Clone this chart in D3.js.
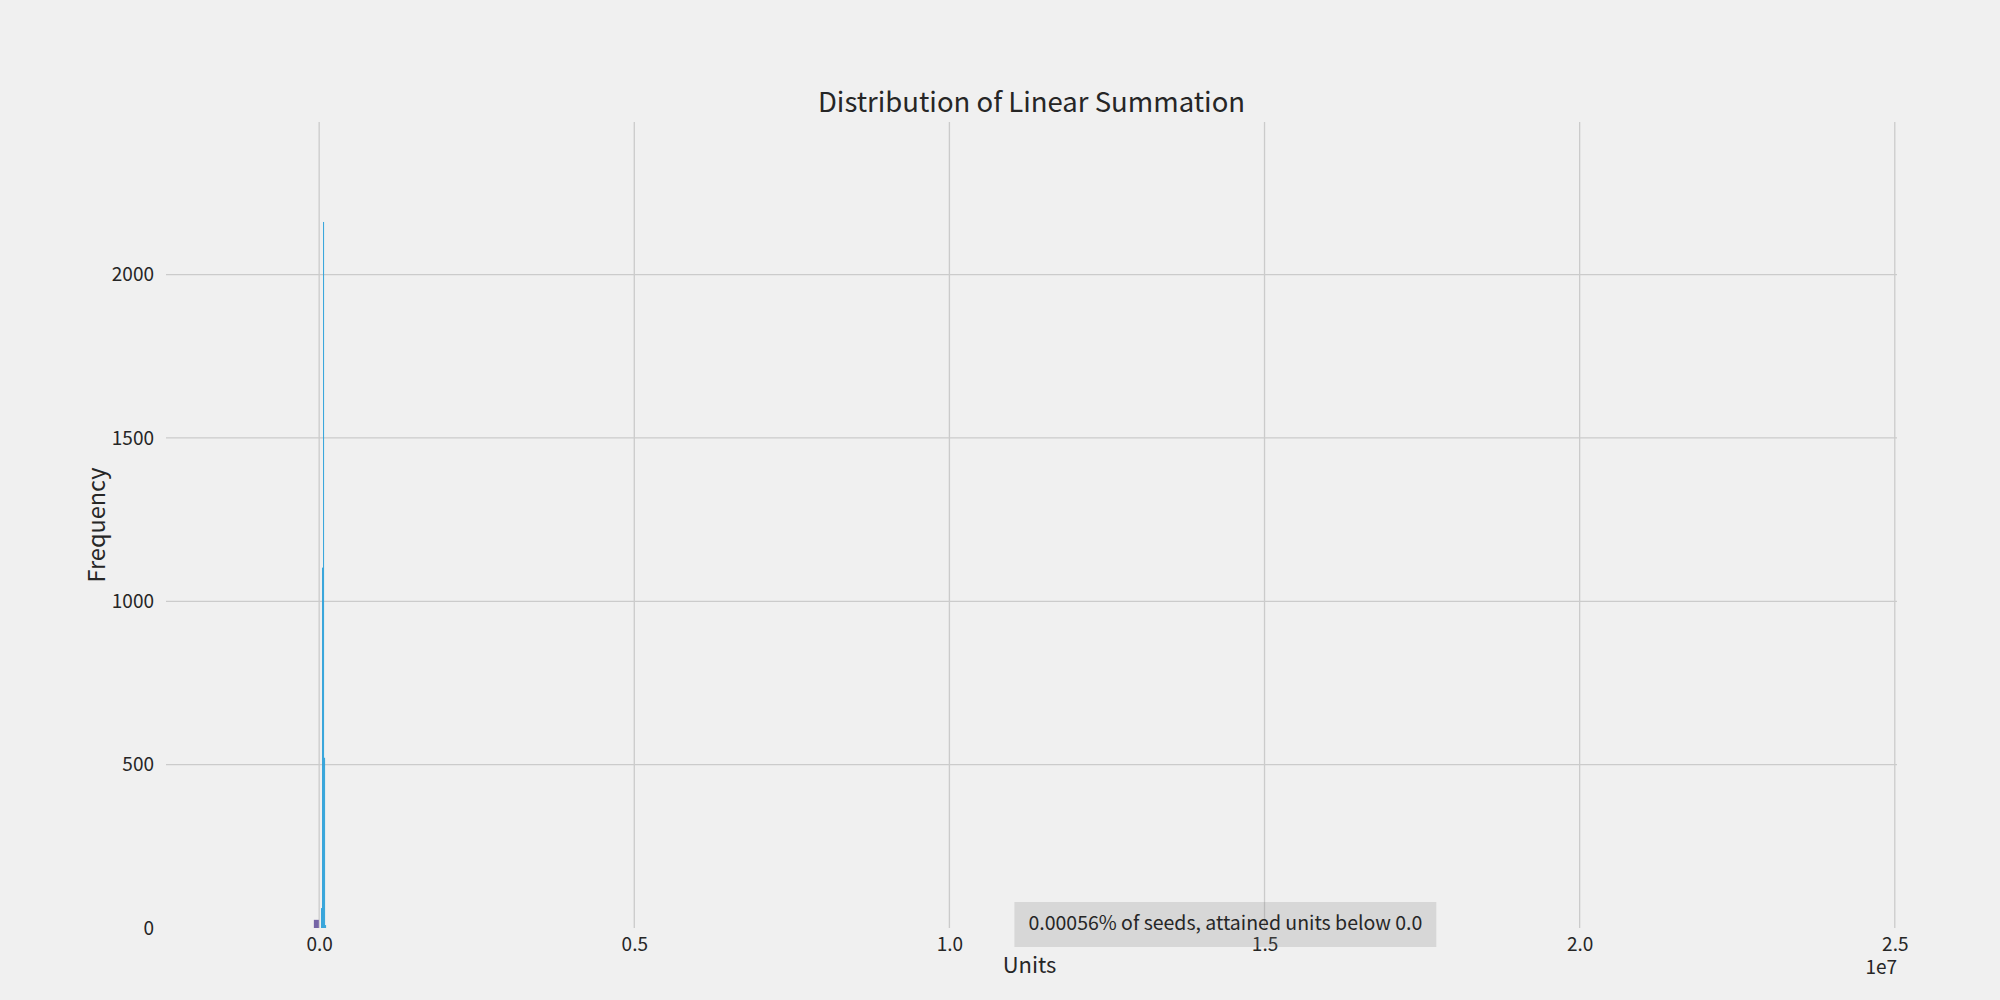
<!DOCTYPE html>
<html>
<head>
<meta charset="utf-8">
<script src="https://cdn.jsdelivr.net/npm/d3@7"></script>
<style>
  html, body { margin: 0; padding: 0; background: #f0f0f0; }
  svg { display: block; }
  text { font-family: "Noto Sans CJK JP", "Noto Sans", sans-serif; fill: #262626; }
</style>
</head>
<body>
<svg id="chart" width="2000" height="1000"></svg>
<script>
// ---- data ----
const title = "Distribution of Linear Summation";
const xLabel = "Units";
const yLabel = "Frequency";
const xOffsetLabel = "1e7";
const annotation = "0.00056% of seeds, attained units below 0.0";

// histogram of seeds with units >= 0 (bin edges in units)
const posBinStart = [30000, 46000, 62000, 78000, 94000];
const posBinEnd   = [46000, 62000, 78000, 94000, 110000];
const posCounts   = [61, 1103, 2161, 521, 9];

// histogram of seeds with units < 0
const negBinStart = [-84000];
const negBinEnd   = [-5000];
const negCounts   = [25];

const xTicks = [0, 5e6, 1e7, 1.5e7, 2e7, 2.5e7];
const xTickLabels = ["0.0", "0.5", "1.0", "1.5", "2.0", "2.5"];
const yTicks = [500, 1000, 1500, 2000];
const yTickLabels = ["0", "500", "1000", "1500", "2000"];
const yTickValues = [0, 500, 1000, 1500, 2000];
const xDomain = [-2.43e6, 2.5035e7];
const yDomain = [0, 2467];

// ---- layout ----
const svg = d3.select("#chart");
const W = 2000, H = 1000;
const mL = 166, mR = 1897, mT = 122, mB = 928;

svg.append("rect").attr("width", W).attr("height", H).attr("fill", "#f0f0f0");

const x = d3.scaleLinear().domain(xDomain).range([mL, mR]);
const y = d3.scaleLinear().domain(yDomain).range([mB, mT]);

// grid
const grid = svg.append("g");
grid.selectAll("line.v").data(xTicks).join("line")
  .attr("class", "v")
  .attr("x1", d => x(d)).attr("x2", d => x(d))
  .attr("y1", mT).attr("y2", mB)
  .attr("stroke", "#cbcbcb").attr("stroke-width", 1.3);
grid.selectAll("line.h").data(yTicks).join("line")
  .attr("class", "h")
  .attr("x1", mL).attr("x2", mR)
  .attr("y1", d => y(d)).attr("y2", d => y(d))
  .attr("stroke", "#cbcbcb").attr("stroke-width", 1.3);

// bars
const pos = posCounts.map((c, i) => ({ x0: posBinStart[i], x1: posBinEnd[i], c }));
const neg = negCounts.map((c, i) => ({ x0: negBinStart[i], x1: negBinEnd[i], c }));

svg.append("g").selectAll("rect").data(neg).join("rect")
  .attr("x", d => x(d.x0)).attr("width", d => Math.max(0.8, x(d.x1) - x(d.x0)))
  .attr("y", d => y(d.c)).attr("height", d => y(0) - y(d.c))
  .attr("fill", "#7565a6");

svg.append("g").selectAll("rect").data(pos).join("rect")
  .attr("x", d => x(d.x0)).attr("width", d => Math.max(0.8, x(d.x1) - x(d.x0)))
  .attr("y", d => y(d.c)).attr("height", d => y(0) - y(d.c))
  .attr("fill", "#30a2da");

// axes (labels only, no lines)
const xAxis = d3.axisBottom(x).tickValues(xTicks)
  .tickFormat((d, i) => xTickLabels[i]).tickSize(0).tickPadding(10);
const gx = svg.append("g").attr("transform", `translate(0,${mB})`).call(xAxis);
gx.select(".domain").remove();
gx.selectAll("text").style("font-size", "19px").attr("fill", "#262626")
  .style("font-family", '"Noto Sans CJK JP", "Noto Sans", sans-serif');

const yAxis = d3.axisLeft(y).tickValues(yTickValues)
  .tickFormat((d, i) => yTickLabels[i]).tickSize(0).tickPadding(12);
const gy = svg.append("g").attr("transform", `translate(${mL},0)`).call(yAxis);
gy.select(".domain").remove();
gy.selectAll("text").style("font-size", "19px").attr("fill", "#262626")
  .style("font-family", '"Noto Sans CJK JP", "Noto Sans", sans-serif');

// offset label
svg.append("text").attr("x", mR).attr("y", 974).attr("text-anchor", "end")
  .style("font-size", "19px").text(xOffsetLabel);

// title & axis labels
svg.append("text").attr("x", (mL + mR) / 2).attr("y", 112).attr("text-anchor", "middle")
  .style("font-size", "27.5px").text(title);
svg.append("text").attr("x", (mL + mR) / 2 - 2).attr("y", 973).attr("text-anchor", "middle")
  .style("font-size", "22px").text(xLabel);
svg.append("text")
  .attr("transform", `translate(84,${(mT + mB) / 2}) rotate(-90)`)
  .attr("text-anchor", "middle").attr("dy", "0.9em")
  .style("font-size", "23.5px").text(yLabel);

// annotation box
const ann = svg.append("g");
const annText = ann.append("text")
  .attr("x", x(1.1e7) + 16).attr("y", y(0) + 2)
  .style("font-size", "19.5px").text(annotation);
const bb = annText.node().getBBox();
ann.insert("rect", "text")
  .attr("x", bb.x - 14).attr("y", y(0) - 26)
  .attr("width", bb.width + 28).attr("height", 45)
  .attr("fill", "rgba(128,128,128,0.22)");
</script>
</body>
</html>
